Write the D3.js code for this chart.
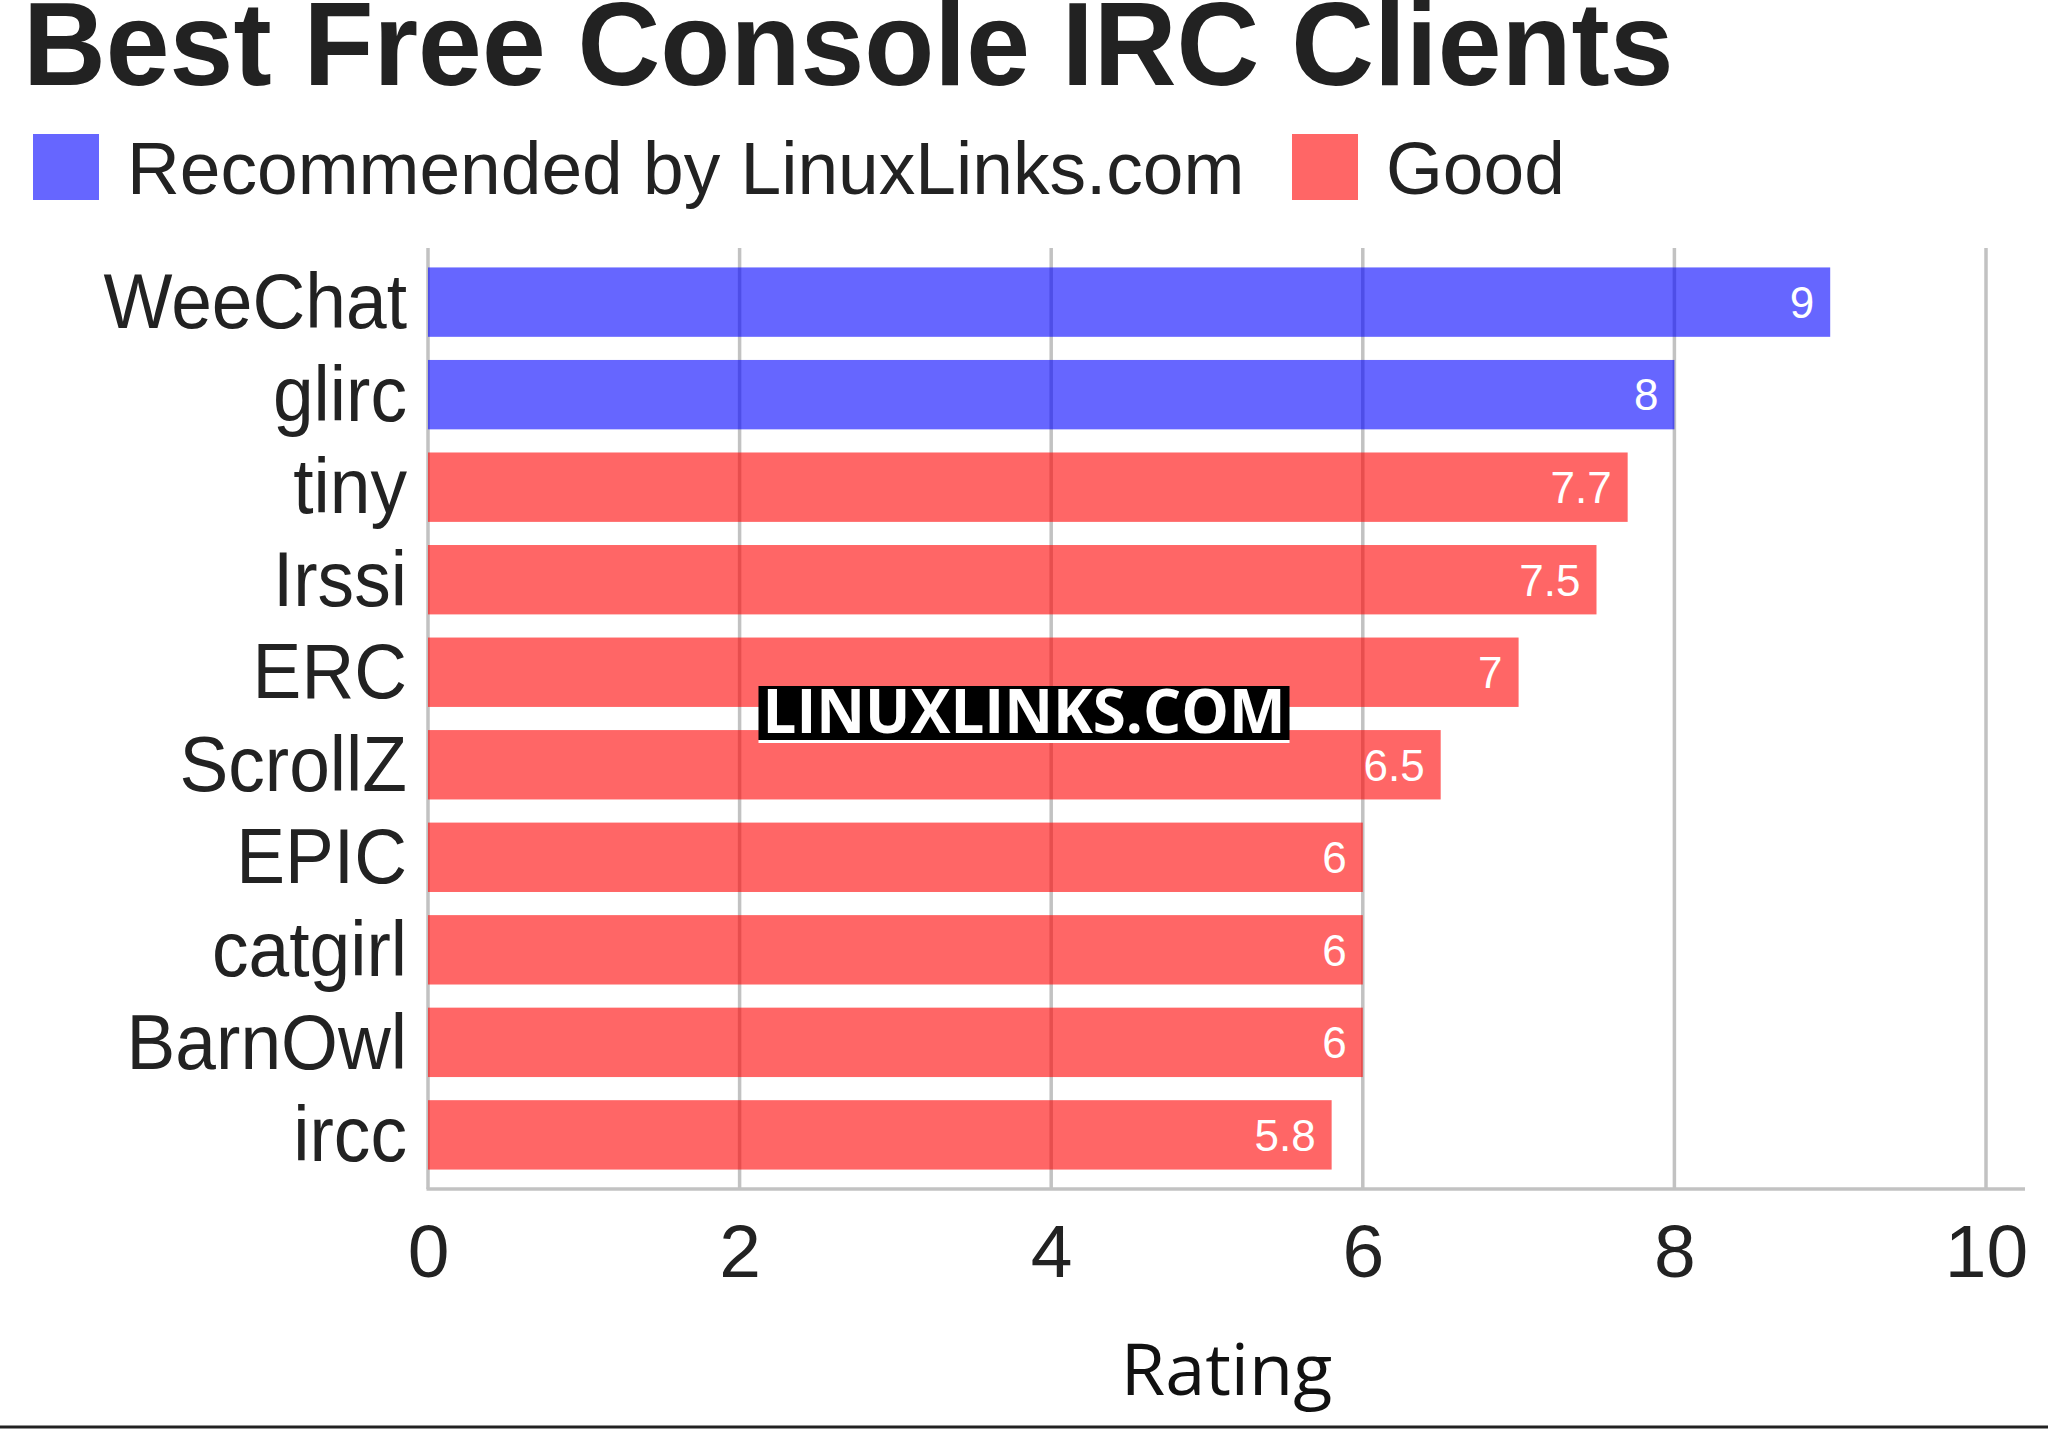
<!DOCTYPE html>
<html>
<head>
<meta charset="utf-8">
<script src="https://cdn.jsdelivr.net/npm/d3@7"></script>
<style>
  html, body { margin: 0; padding: 0; background: #fff; }
  svg { display: block; }
</style>
</head>
<body>
<svg id="chart" width="2048" height="1430"></svg>
<script>
// ---- data ----
const categories = ["WeeChat", "glirc", "tiny", "Irssi", "ERC", "ScrollZ", "EPIC", "catgirl", "BarnOwl", "ircc"];
const ratings = [9, 8, 7.7, 7.5, 7, 6.5, 6, 6, 6, 5.8];
const groups = ["Recommended", "Recommended", "Good", "Good", "Good", "Good", "Good", "Good", "Good", "Good"];
const legendKeys = ["Recommended", "Good"];
const legendLabels = ["Recommended by LinuxLinks.com", "Good"];
const xTicks = [0, 2, 4, 6, 8, 10];
const titleText = "Best Free Console IRC Clients";
const axisTitle = "Rating";
const watermark = "LINUXLINKS.COM";

// ---- setup ----
const svg = d3.select("#chart");
const W = 2048, H = 1430;
const plotTop = 248, plotBottom = 1189;

const color = d3.scaleOrdinal().domain(legendKeys).range(["rgba(0,0,255,0.6)", "rgba(255,0,0,0.6)"]);
const x = d3.scaleLinear().domain([0, 10]).range([428, 1986]);
const y = d3.scaleBand().domain(categories).range([plotTop, plotBottom]).paddingInner(0.25).paddingOuter(0.21);

const data = categories.map((c, i) => ({ name: c, value: ratings[i], group: groups[i] }));

// background
svg.append("rect").attr("width", W).attr("height", H).attr("fill", "#fff");

// title
svg.append("text")
  .attr("transform", "translate(23,84.5) scale(0.972,1)")
  .attr("font-family", "'Liberation Sans', Arial, sans-serif")
  .attr("font-weight", "bold")
  .attr("font-size", 118)
  .attr("fill", "#222")
  .text(titleText);

// legend
const legendX = [33, 1292];
const lg = svg.append("g");
legendKeys.forEach((k, i) => {
  lg.append("rect")
    .attr("x", legendX[i]).attr("y", 134)
    .attr("width", 66).attr("height", 66)
    .attr("fill", color(k));
  lg.append("text")
    .attr("transform", `translate(${legendX[i] + 94},194) scale(0.975,1)`)
    .attr("font-family", "'Liberation Sans', Arial, sans-serif")
    .attr("font-size", 75)
    .attr("fill", "#222")
    .text(legendLabels[i]);
});

// gridlines (behind bars)
svg.append("g").selectAll("line").data(xTicks).join("line")
  .attr("x1", d => x(d)).attr("x2", d => x(d))
  .attr("y1", plotTop).attr("y2", plotBottom)
  .attr("stroke", "#c2c2c2").attr("stroke-width", 3.5);

// bottom axis line
svg.append("line")
  .attr("x1", x(0) - 1.5).attr("x2", x.range()[1] + 39)
  .attr("y1", plotBottom).attr("y2", plotBottom)
  .attr("stroke", "#c2c2c2").attr("stroke-width", 3.5);

// bars
svg.append("g").selectAll("rect").data(data).join("rect")
  .attr("x", x(0))
  .attr("y", d => y(d.name))
  .attr("width", d => x(d.value) - x(0))
  .attr("height", y.bandwidth())
  .attr("fill", d => color(d.group));

// value labels
svg.append("g").selectAll("text").data(data).join("text")
  .attr("x", d => x(d.value) - 16)
  .attr("y", d => y(d.name) + y.bandwidth() / 2)
  .attr("dy", "0.36em")
  .attr("text-anchor", "end")
  .attr("font-family", "'Liberation Sans', Arial, sans-serif")
  .attr("font-size", 44)
  .attr("fill", "#fff")
  .text(d => d.value);

// category labels
svg.append("g").selectAll("text").data(data).join("text")
  .attr("transform", d => `translate(${x(0) - 21},${y(d.name) + y.bandwidth() / 2}) scale(0.95,1)`)
  .attr("dy", "0.34em")
  .attr("text-anchor", "end")
  .attr("font-family", "'Liberation Sans', Arial, sans-serif")
  .attr("font-size", 77)
  .attr("fill", "#222")
  .text(d => d.name);

// x axis ticks
const xAxis = d3.axisBottom(x).tickValues(xTicks).tickSize(0).tickPadding(35).tickFormat(d3.format("d"));
const ax = svg.append("g").attr("transform", `translate(0,${plotBottom})`).call(xAxis);
ax.select(".domain").remove();
ax.selectAll("text")
  .attr("font-family", "'Liberation Sans', Arial, sans-serif")
  .attr("font-size", 75)
  .attr("fill", "#222");

// axis title
svg.append("text")
  .attr("x", (x(0) + x.range()[1] + 39) / 2)
  .attr("y", 1395)
  .attr("text-anchor", "middle")
  .attr("font-family", "'Open Sans', 'Noto Sans', sans-serif")
  .attr("font-size", 72)
  .attr("fill", "#111")
  .text(axisTitle);

// bottom rule
svg.append("line")
  .attr("x1", 0).attr("x2", W)
  .attr("y1", 1427).attr("y2", 1427)
  .attr("stroke", "#222").attr("stroke-width", 3);

// watermark
const wm = svg.append("g");
const wmText = wm.append("text")
  .attr("x", 1024).attr("y", 733)
  .attr("text-anchor", "middle")
  .attr("font-family", "'Open Sans', 'Noto Sans', sans-serif")
  .attr("font-weight", "bold")
  .attr("font-size", 60)
  .attr("fill", "#fff")
  .text(watermark);
const bb = wmText.node().getBBox();
wm.insert("rect", "text")
  .attr("x", bb.x - 4).attr("y", 686)
  .attr("width", bb.width + 8).attr("height", 54)
  .attr("fill", "#000");
wm.insert("rect", "text")
  .attr("x", bb.x - 4).attr("y", 740)
  .attr("width", bb.width + 8).attr("height", 3)
  .attr("fill", "#fff");
</script>
</body>
</html>
